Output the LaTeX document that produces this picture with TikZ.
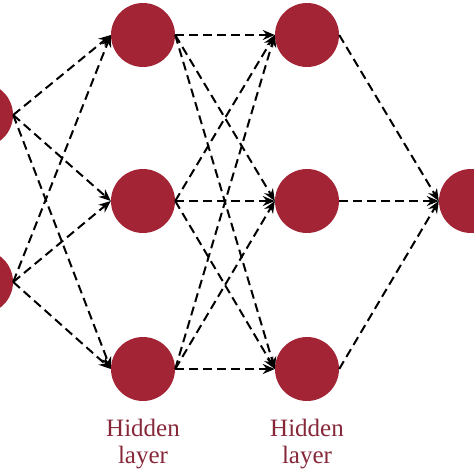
\documentclass[tikz,border=0pt]{standalone}
\usepackage{fontspec}
\setmainfont{Liberation Serif}
\usetikzlibrary{positioning,arrows.meta}
\definecolor{neuron}{RGB}{163,36,52}
\definecolor{labink}{RGB}{135,40,58}

\begin{document}
\begin{tikzpicture}[x=1pt,y=-1pt,
  unit/.style={circle,fill=neuron,minimum size=64pt,inner sep=0pt},
  link/.style={-{Stealth[length=12pt,width=10pt]},line width=2pt,dash pattern=on 9pt off 5pt},
  labtext/.style={text=labink,align=center,inner sep=0pt,font=\fontsize{25}{27}\selectfont}]
\useasboundingbox (0,0) rectangle (474,474);
\foreach \i/\y in {1/115,2/282} {\node[unit] (in\i) at (-19,\y) {};}
\foreach \i/\y in {1/35,2/201,3/369} {
  \node[unit] (ha\i) at (143,\y) {};
  \node[unit] (hb\i) at (307,\y) {};}
\node[unit] (out) at (471,201) {};
\foreach \i in {1,2} \foreach \j in {1,2,3} {\draw[link] (in\i.east) -- (ha\j.west);}
\foreach \i in {1,2,3} \foreach \j in {1,2,3} {\draw[link] (ha\i.east) -- (hb\j.west);}
\foreach \i in {1,2,3} {\draw[link] (hb\i.east) -- (out.west);}
\node[labtext,anchor=north] (laba) at (143,419) {Hidden\\layer};
\node[labtext,anchor=north] (labb) at (307,419) {Hidden\\layer};
\end{tikzpicture}
\end{document}
